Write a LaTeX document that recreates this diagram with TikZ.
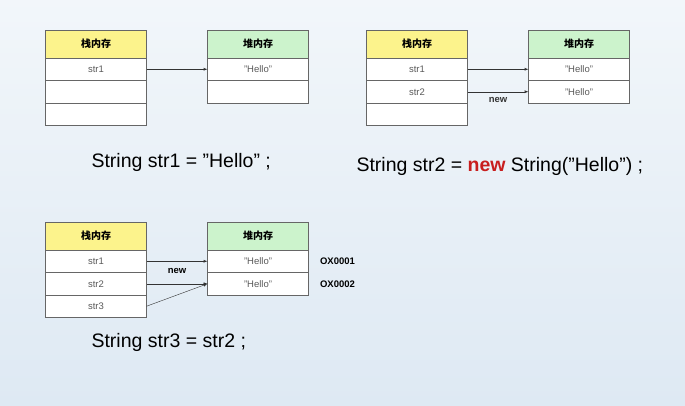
\documentclass[tikz,border=0pt]{standalone}
\usepackage{fontspec}
\setmainfont{Liberation Sans}
\newfontfamily\cjk{Noto Sans CJK SC}
\usetikzlibrary{positioning}
\definecolor{bgblue}{RGB}{222,233,243}
\definecolor{stackhead}{RGB}{252,243,140}
\definecolor{heaphead}{RGB}{204,243,204}
\definecolor{celltext}{RGB}{90,90,90}
\newcommand\qq{\symbol{34}}
\tikzset{
    cell/.style={draw=gray!80!black, fill=white, minimum width=101pt, minimum height=22.5pt,
        inner sep=0pt, outer sep=0pt, font=\fontsize{9.5}{11}\selectfont, text=celltext},
    stackh/.style={cell, fill=stackhead, minimum height=28pt, text=black, font=\cjk\bfseries\fontsize{10}{11}\selectfont},
    heaph/.style={stackh, fill=heaphead},
    ref/.style={-latex, thin, black!80},
    code/.style={font=\fontsize{19.5}{22}\selectfont, anchor=west},
    small/.style={font=\bfseries\fontsize{9.5}{11}\selectfont}
}
\begin{document}
\begin{tikzpicture}[x=1pt,y=-1pt]
    \shade[top color=white!60!bgblue, bottom color=bgblue] (0,0) rectangle (685,406);
    % panel 1
    \node[stackh] (s1h) at (96,44) {栈内存};
    \node[cell, below=0pt of s1h] (s1a) {str1};
    \node[cell, below=0pt of s1a] (s1b) {};
    \node[cell, below=0pt of s1b] (s1c) {};
    \node[heaph] (h1h) at (258,44) {堆内存};
    \node[cell, below=0pt of h1h] (h1a) {\qq Hello\qq};
    \node[cell, below=0pt of h1a] (h1b) {};
    \draw[ref] (s1a.east) -- (h1a.west);
    \node[code] (c1) at (88,162) {String str1 = \qq Hello\qq{} ;};
    % panel 2
    \node[stackh] (s2h) at (417,44) {栈内存};
    \node[cell, below=0pt of s2h] (s2a) {str1};
    \node[cell, below=0pt of s2a] (s2b) {str2};
    \node[cell, below=0pt of s2b] (s2c) {};
    \node[heaph] (h2h) at (579,44) {堆内存};
    \node[cell, below=0pt of h2h] (h2a) {\qq Hello\qq};
    \node[cell, below=0pt of h2a] (h2b) {\qq Hello\qq};
    \draw[ref] (s2a.east) -- (h2a.west);
    \draw[ref] (s2b.east) -- node[small, below=2pt] (n2) {new} (h2b.west);
    \node[code] (c2) at (353,166) {String str2 = \textcolor[RGB]{200,30,30}{\bfseries new} String(\qq Hello\qq) ;};
    % panel 3
    \node[stackh] (s3h) at (96,236) {栈内存};
    \node[cell, below=0pt of s3h] (s3a) {str1};
    \node[cell, below=0pt of s3a] (s3b) {str2};
    \node[cell, below=0pt of s3b] (s3c) {str3};
    \node[heaph] (h3h) at (258,236) {堆内存};
    \node[cell, below=0pt of h3h] (h3a) {\qq Hello\qq};
    \node[cell, below=0pt of h3a] (h3b) {\qq Hello\qq};
    \draw[ref] (s3a.east) -- (h3a.west);
    \draw[ref] (s3b.east) -- (h3b.west);
    \draw[ref] (s3c.east) -- (h3b.west);
    \node[small] (n3) at (177,271) {new};
    \node[small, right=8pt of h3a] (a1) {OX0001};
    \node[small, right=8pt of h3b] (a2) {OX0002};
    \node[code] (c3) at (88,342) {String str3 = str2 ;};
\end{tikzpicture}
\end{document}
